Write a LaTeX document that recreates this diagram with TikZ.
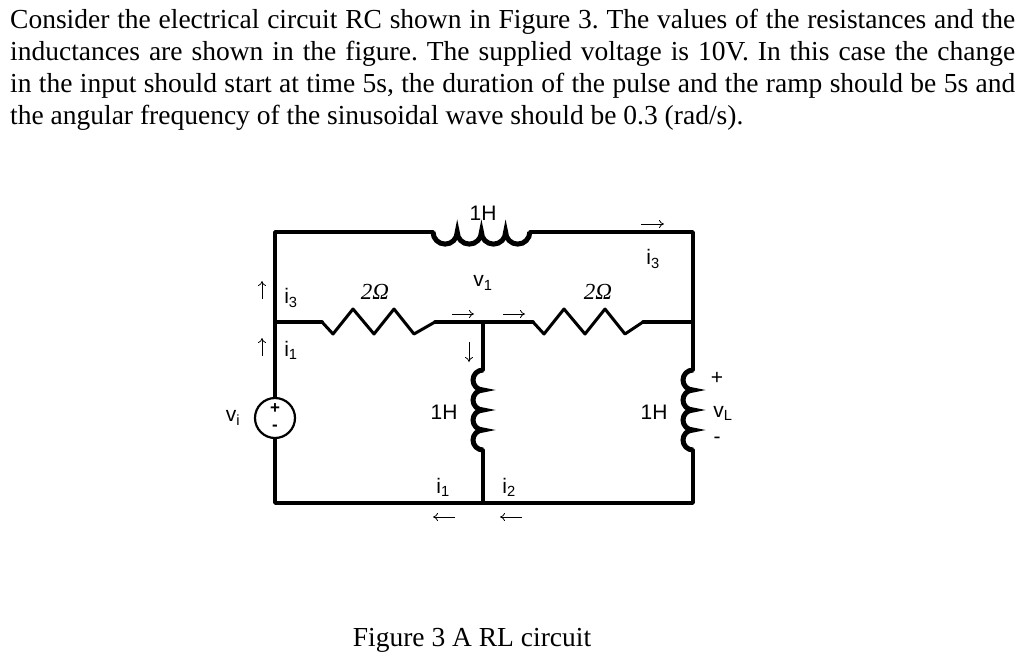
\documentclass[tikz,border=0pt]{standalone}
\usepackage{fontspec}
\usetikzlibrary{arrows.meta}
\setmainfont{Liberation Serif}
\newfontfamily\arial{Liberation Sans}
\frenchspacing
\begin{document}
\begin{tikzpicture}[x=1pt,y=-1pt,
  wire/.style={line width=3.5pt,line cap=round,line join=round},
  coil/.style={line width=5pt},
  lbl/.style={font=\arial\fontsize{21}{21}\selectfont,inner sep=0pt},
  ohm/.style={font=\fontsize{23}{23}\selectfont\itshape,inner sep=0pt},
  cur/.style={line width=0.8pt,-{To[length=5pt,width=8pt]}},
  para/.style={anchor=base west,inner sep=0pt,font=\fontsize{27.5}{27.5}\selectfont}]
\useasboundingbox (0,0) rectangle (1024,659);
\node[para] (l1) at (10,28) {\makebox[1005pt][s]{Consider the electrical circuit RC shown in Figure 3. The values of the resistances and the}};
\node[para] (l2) at (10,60) {\makebox[1005pt][s]{inductances are shown in the figure. The supplied voltage is 10V. In this case the change}};
\node[para] (l3) at (10,92) {\makebox[1005pt][s]{in the input should start at time 5s, the duration of the pulse and the ramp should be 5s and}};
\node[para] (l4) at (10,124) {the angular frequency of the sinusoidal wave should be 0.3 (rad/s).};
\node[para,anchor=base] (cap) at (472,646) {Figure 3 A RL circuit};
% corners
\coordinate (TL) at (275,232); \coordinate (TR) at (693,232);
\coordinate (ML) at (275,322); \coordinate (MM) at (483,322); \coordinate (MR) at (693,322);
\coordinate (BL) at (275,503); \coordinate (BM) at (483,503); \coordinate (BR) at (693,503);
\node[circle,draw,line width=2.2pt,minimum size=40pt,inner sep=0pt] (src) at (275,418) {};
\node[font=\arial\bfseries\fontsize{17}{17}\selectfont,inner sep=0pt] (sp) at (275,409) {+};
\node[font=\arial\bfseries\fontsize{17}{17}\selectfont,inner sep=0pt] (sm) at (275,428) {-};
% wires
\draw[wire] (src.north) -- (ML) -- (TL) -- (433,232);
\draw[wire] (530,232) -- (TR) -- (MR) -- (643,322);
\draw[wire] (ML) -- (322,322);
\draw[wire] (435,322) -- (533,322);
\draw[wire] (MM) -- (483,370);
\draw[wire] (483,450) -- (BM);
\draw[wire] (MR) -- (693,370);
\draw[wire] (693,450) -- (BR) -- (BL) -- (src.south);
% resistors
\draw[wire,line width=3pt] (322,322) -- (333,334) -- (353,309) -- (374,334) -- (394,309) -- (414,334) -- (435,322);
\draw[wire,line width=3pt] (533,322) -- (544,334) -- (564,309) -- (585,334) -- (605,309) -- (625,334) -- (643,322);
% top coil
\draw[coil] (433,232) arc[start angle=180,end angle=0,radius=12.1] arc[start angle=180,end angle=0,radius=12.1] arc[start angle=180,end angle=0,radius=12.1] arc[start angle=180,end angle=0,radius=12.1];
% vertical coils
\draw[coil] (483,370) arc[start angle=270,end angle=90,radius=10] arc[start angle=270,end angle=90,radius=10] arc[start angle=270,end angle=90,radius=10] arc[start angle=270,end angle=90,radius=10];
\draw[coil] (693,370) arc[start angle=270,end angle=90,radius=10] arc[start angle=270,end angle=90,radius=10] arc[start angle=270,end angle=90,radius=10] arc[start angle=270,end angle=90,radius=10];
% labels
\node[lbl] (Ltop) at (483,213) {1H};
\node[lbl] (Lmid) at (444,412) {1H};
\node[lbl] (Lright) at (654,412) {1H};
\node[ohm] (R1) at (375,292) {2\char"03A9};
\node[ohm] (R2) at (598,292) {2\char"03A9};
\node[lbl] (v1) at (483,283) {v\textsubscript{1}};
\node[lbl] (vi) at (233,418) {v\textsubscript{i}};
\node[lbl] (vp) at (717,378) {+};
\node[lbl] (vL) at (723,413) {v\textsubscript{L}};
\node[lbl] (vm) at (717,440) {-};
\node[lbl] (i3a) at (291,298) {i\textsubscript{3}};
\node[lbl] (i1a) at (291,350) {i\textsubscript{1}};
\node[lbl] (i3b) at (653,259) {i\textsubscript{3}};
\node[lbl] (i1b) at (443,487) {i\textsubscript{1}};
\node[lbl] (i2b) at (509,487) {i\textsubscript{2}};
% current arrows
\coordinate (a1s) at (262,299); \coordinate (a1e) at (262,281);
\draw[cur] (a1s) -- (a1e);
\coordinate (a2s) at (262,356); \coordinate (a2e) at (262,338);
\draw[cur] (a2s) -- (a2e);
\coordinate (a3s) at (641,224); \coordinate (a3e) at (664,224);
\draw[cur] (a3s) -- (a3e);
\coordinate (a4s) at (452,314); \coordinate (a4e) at (474,314);
\draw[cur] (a4s) -- (a4e);
\coordinate (a5s) at (503,314); \coordinate (a5e) at (525,314);
\draw[cur] (a5s) -- (a5e);
\coordinate (a6s) at (469,342); \coordinate (a6e) at (469,362);
\draw[cur] (a6s) -- (a6e);
\coordinate (a7s) at (455,517); \coordinate (a7e) at (433,517);
\draw[cur] (a7s) -- (a7e);
\coordinate (a8s) at (522,517); \coordinate (a8e) at (500,517);
\draw[cur] (a8s) -- (a8e);
\end{tikzpicture}
\end{document}
